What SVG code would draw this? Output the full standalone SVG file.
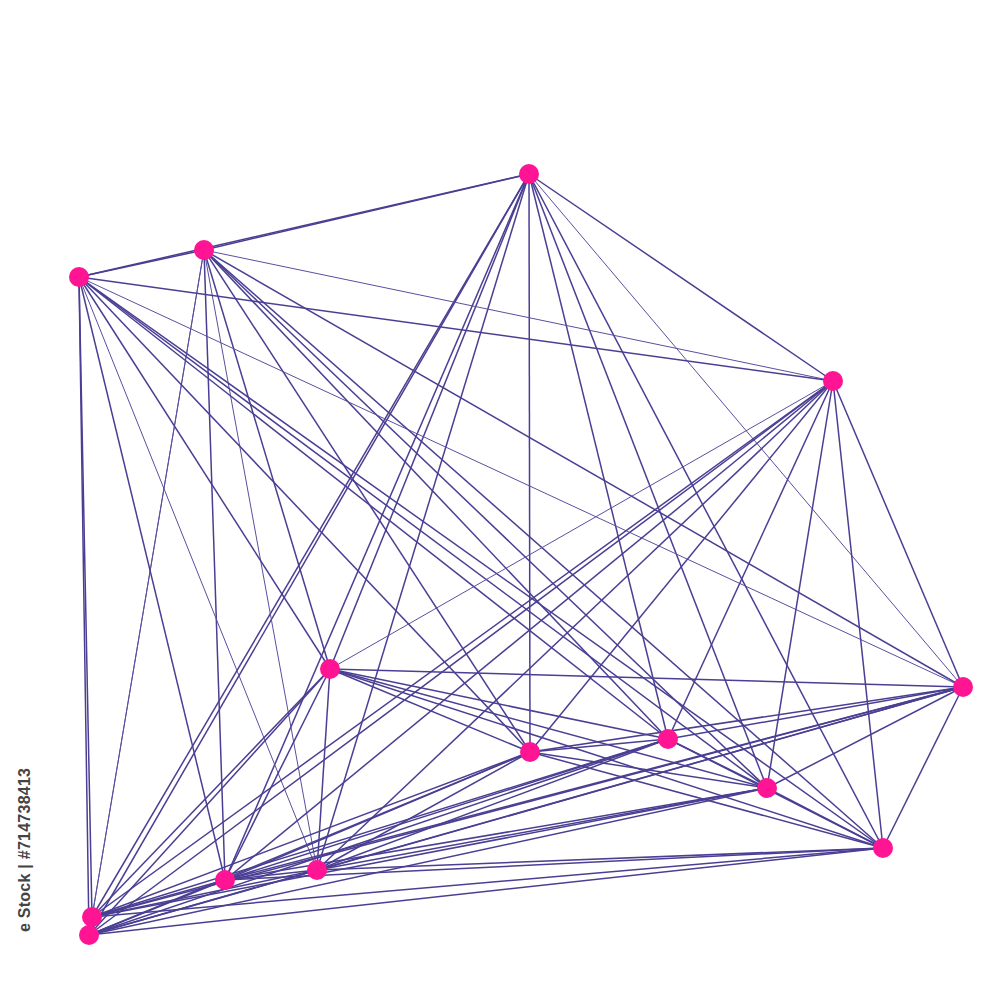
<svg xmlns="http://www.w3.org/2000/svg" width="1000" height="1000" viewBox="0 0 1000 1000">
<style>
.e{stroke:#4a3f93;stroke-width:1.5;fill:none}
.t{stroke:#5a4f9e;stroke-width:1;fill:none}
.n{fill:#ff1493}
.wm{font-family:"Liberation Sans",Arial,sans-serif;font-size:16px;font-weight:bold;fill:#444}
</style>
<rect width="1000" height="1000" fill="#fff"/>
<g id="connectors">
<line class="e" x1="529" y1="174" x2="204" y2="250"/>
<line class="e" x1="529" y1="174" x2="79" y2="277"/>
<line class="e" x1="529" y1="174" x2="833" y2="381"/>
<line class="e" x1="529" y1="174" x2="330" y2="669"/>
<line class="t" x1="529" y1="174" x2="963" y2="687"/>
<line class="e" x1="529" y1="174" x2="530" y2="752"/>
<line class="e" x1="529" y1="174" x2="668" y2="739"/>
<line class="e" x1="529" y1="174" x2="767" y2="788"/>
<line class="e" x1="529" y1="174" x2="883" y2="848"/>
<line class="e" x1="529" y1="174" x2="225" y2="880"/>
<line class="e" x1="529" y1="174" x2="317" y2="870"/>
<line class="e" x1="529" y1="174" x2="92" y2="917"/>
<line class="e" x1="529" y1="174" x2="89" y2="935"/>
<line class="e" x1="204" y1="250" x2="79" y2="277"/>
<line class="t" x1="204" y1="250" x2="833" y2="381"/>
<line class="e" x1="204" y1="250" x2="330" y2="669"/>
<line class="e" x1="204" y1="250" x2="963" y2="687"/>
<line class="e" x1="204" y1="250" x2="530" y2="752"/>
<line class="e" x1="204" y1="250" x2="668" y2="739"/>
<line class="e" x1="204" y1="250" x2="767" y2="788"/>
<line class="e" x1="204" y1="250" x2="883" y2="848"/>
<line class="e" x1="204" y1="250" x2="225" y2="880"/>
<line class="t" x1="204" y1="250" x2="317" y2="870"/>
<line class="t" x1="204" y1="250" x2="92" y2="917"/>
<line class="t" x1="204" y1="250" x2="89" y2="935"/>
<line class="e" x1="79" y1="277" x2="833" y2="381"/>
<line class="e" x1="79" y1="277" x2="330" y2="669"/>
<line class="t" x1="79" y1="277" x2="963" y2="687"/>
<line class="e" x1="79" y1="277" x2="530" y2="752"/>
<line class="e" x1="79" y1="277" x2="668" y2="739"/>
<line class="e" x1="79" y1="277" x2="767" y2="788"/>
<line class="e" x1="79" y1="277" x2="883" y2="848"/>
<line class="e" x1="79" y1="277" x2="225" y2="880"/>
<line class="t" x1="79" y1="277" x2="317" y2="870"/>
<line class="e" x1="79" y1="277" x2="92" y2="917"/>
<line class="e" x1="79" y1="277" x2="89" y2="935"/>
<line class="t" x1="833" y1="381" x2="330" y2="669"/>
<line class="e" x1="833" y1="381" x2="963" y2="687"/>
<line class="e" x1="833" y1="381" x2="530" y2="752"/>
<line class="e" x1="833" y1="381" x2="668" y2="739"/>
<line class="e" x1="833" y1="381" x2="767" y2="788"/>
<line class="e" x1="833" y1="381" x2="883" y2="848"/>
<line class="e" x1="833" y1="381" x2="225" y2="880"/>
<line class="e" x1="833" y1="381" x2="317" y2="870"/>
<line class="e" x1="833" y1="381" x2="92" y2="917"/>
<line class="e" x1="833" y1="381" x2="89" y2="935"/>
<line class="e" x1="330" y1="669" x2="963" y2="687"/>
<line class="e" x1="330" y1="669" x2="530" y2="752"/>
<line class="e" x1="330" y1="669" x2="668" y2="739"/>
<line class="e" x1="330" y1="669" x2="767" y2="788"/>
<line class="e" x1="330" y1="669" x2="883" y2="848"/>
<line class="e" x1="330" y1="669" x2="225" y2="880"/>
<line class="e" x1="330" y1="669" x2="317" y2="870"/>
<line class="e" x1="330" y1="669" x2="92" y2="917"/>
<line class="e" x1="330" y1="669" x2="89" y2="935"/>
<line class="e" x1="963" y1="687" x2="530" y2="752"/>
<line class="e" x1="963" y1="687" x2="668" y2="739"/>
<line class="e" x1="963" y1="687" x2="767" y2="788"/>
<line class="e" x1="963" y1="687" x2="883" y2="848"/>
<line class="e" x1="963" y1="687" x2="225" y2="880"/>
<line class="e" x1="963" y1="687" x2="317" y2="870"/>
<line class="e" x1="963" y1="687" x2="92" y2="917"/>
<line class="e" x1="963" y1="687" x2="89" y2="935"/>
<line class="e" x1="530" y1="752" x2="668" y2="739"/>
<line class="e" x1="530" y1="752" x2="767" y2="788"/>
<line class="e" x1="530" y1="752" x2="883" y2="848"/>
<line class="e" x1="530" y1="752" x2="225" y2="880"/>
<line class="e" x1="530" y1="752" x2="317" y2="870"/>
<line class="e" x1="530" y1="752" x2="92" y2="917"/>
<line class="e" x1="530" y1="752" x2="89" y2="935"/>
<line class="e" x1="668" y1="739" x2="767" y2="788"/>
<line class="e" x1="668" y1="739" x2="883" y2="848"/>
<line class="e" x1="668" y1="739" x2="225" y2="880"/>
<line class="e" x1="668" y1="739" x2="317" y2="870"/>
<line class="e" x1="668" y1="739" x2="92" y2="917"/>
<line class="e" x1="668" y1="739" x2="89" y2="935"/>
<line class="e" x1="767" y1="788" x2="883" y2="848"/>
<line class="e" x1="767" y1="788" x2="225" y2="880"/>
<line class="e" x1="767" y1="788" x2="317" y2="870"/>
<line class="e" x1="767" y1="788" x2="92" y2="917"/>
<line class="e" x1="767" y1="788" x2="89" y2="935"/>
<line class="e" x1="883" y1="848" x2="225" y2="880"/>
<line class="e" x1="883" y1="848" x2="317" y2="870"/>
<line class="e" x1="883" y1="848" x2="92" y2="917"/>
<line class="e" x1="883" y1="848" x2="89" y2="935"/>
<line class="e" x1="225" y1="880" x2="317" y2="870"/>
<line class="e" x1="225" y1="880" x2="92" y2="917"/>
<line class="e" x1="225" y1="880" x2="89" y2="935"/>
<line class="e" x1="317" y1="870" x2="92" y2="917"/>
<line class="e" x1="317" y1="870" x2="89" y2="935"/>
<line class="e" x1="92" y1="917" x2="89" y2="935"/>
</g>
<g id="node-A"><circle class="n" cx="529" cy="174" r="10"/></g>
<g id="node-B"><circle class="n" cx="204" cy="250" r="10"/></g>
<g id="node-C"><circle class="n" cx="79" cy="277" r="10"/></g>
<g id="node-D"><circle class="n" cx="833" cy="381" r="10"/></g>
<g id="node-E"><circle class="n" cx="330" cy="669" r="10"/></g>
<g id="node-F"><circle class="n" cx="963" cy="687" r="10"/></g>
<g id="node-G"><circle class="n" cx="530" cy="752" r="10"/></g>
<g id="node-H"><circle class="n" cx="668" cy="739" r="10"/></g>
<g id="node-I"><circle class="n" cx="767" cy="788" r="10"/></g>
<g id="node-J"><circle class="n" cx="883" cy="848" r="10"/></g>
<g id="node-K"><circle class="n" cx="225" cy="880" r="10"/></g>
<g id="node-L"><circle class="n" cx="317" cy="870" r="10"/></g>
<g id="node-M"><circle class="n" cx="92" cy="917" r="10"/></g>
<g id="node-N"><circle class="n" cx="89" cy="935" r="10"/></g>
<text class="wm" transform="translate(30,932) rotate(-90)" textLength="164">e Stock | #714738413</text>
</svg>
